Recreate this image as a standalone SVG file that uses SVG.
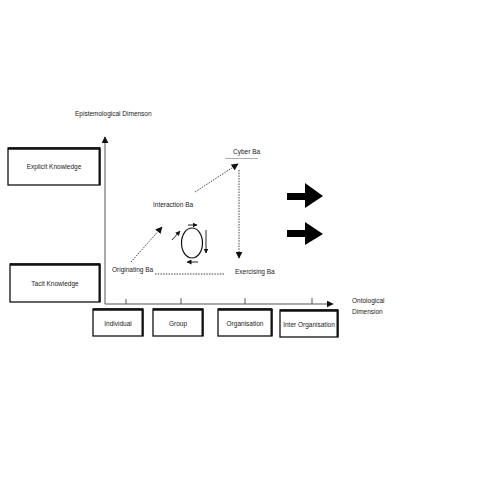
<svg xmlns="http://www.w3.org/2000/svg" width="480" height="480" viewBox="0 0 480 480">
<style>
text{font-family:"Liberation Sans",Arial,sans-serif;font-size:6.5px;fill:#222}
.box{fill:#fff;stroke:#111;stroke-width:1.3}
.top{stroke:#111;stroke-width:2.6}
.side{stroke:#111;stroke-width:2}
.axis{stroke:#555;stroke-width:1;fill:none}
.dot{stroke:#444;stroke-width:1;stroke-dasharray:1.5 1.2;fill:none}
.thin{stroke:#222;stroke-width:1;fill:none}
</style>
<defs>
<marker id="tri" viewBox="0 0 10 10" refX="9" refY="5" markerWidth="7" markerHeight="7" markerUnits="userSpaceOnUse" orient="auto"><path d="M0,0 L10,5 L0,10 Z" fill="#111"/></marker>
<marker id="sm" viewBox="0 0 10 10" refX="9" refY="5" markerWidth="5" markerHeight="5" markerUnits="userSpaceOnUse" orient="auto"><path d="M0,0 L10,5 L0,10 Z" fill="#111"/></marker>
</defs>
<rect width="480" height="480" fill="#fff"/>
<text x="75" y="116">Epistemological Dimenson</text>
<text x="352" y="303">Ontological</text>
<text x="352" y="314">Dimension</text>

<g id="explicit">
<rect class="box" x="8" y="148" width="92" height="37"/>
<line class="top" x1="8" y1="148.5" x2="100" y2="148.5"/>
<line class="side" x1="99.5" y1="148" x2="99.5" y2="185"/>
<text x="54" y="169" text-anchor="middle">Explicit Knowledge</text>
</g>
<g id="tacit">
<rect class="box" x="10" y="264" width="90" height="38"/>
<line class="top" x1="10" y1="264.5" x2="100" y2="264.5"/>
<line class="side" x1="99.5" y1="264" x2="99.5" y2="302"/>
<text x="55" y="286" text-anchor="middle">Tacit Knowledge</text>
</g>
<g id="individual">
<rect class="box" x="93" y="309" width="50" height="27"/>
<line class="top" x1="93" y1="309.5" x2="143" y2="309.5"/>
<line class="side" x1="142.5" y1="309" x2="142.5" y2="336"/>
<text x="118" y="326" text-anchor="middle">Individual</text>
</g>
<g id="group">
<rect class="box" x="153" y="309" width="50" height="27"/>
<line class="top" x1="153" y1="309.5" x2="203" y2="309.5"/>
<line class="side" x1="202.5" y1="309" x2="202.5" y2="336"/>
<text x="178" y="326" text-anchor="middle">Group</text>
</g>
<g id="organisation">
<rect class="box" x="218" y="309" width="54" height="27"/>
<line class="top" x1="218" y1="309.5" x2="272" y2="309.5"/>
<line class="side" x1="271.5" y1="309" x2="271.5" y2="336"/>
<text x="245" y="326" text-anchor="middle">Organisation</text>
</g>
<g id="interorg">
<rect class="box" x="280" y="310" width="58" height="27"/>
<line class="top" x1="280" y1="310.5" x2="338" y2="310.5"/>
<line class="side" x1="337.5" y1="310" x2="337.5" y2="337"/>
<text x="309" y="327" text-anchor="middle">Inter Organisation</text>
</g>

<g id="cyber"><text x="233" y="154">Cyber Ba</text><line x1="225" y1="158.5" x2="258" y2="158.5" stroke="#999" stroke-width="0.8"/></g>
<g id="interaction"><text x="153" y="207">Interaction Ba</text></g>
<g id="originating"><text x="112" y="272">Originating Ba</text></g>
<g id="exercising"><text x="235" y="274">Exercising Ba</text></g>

<g id="connectors">
<line class="axis" x1="105" y1="304" x2="105" y2="137" marker-end="url(#tri)"/>
<line class="axis" x1="105" y1="304" x2="333" y2="304" marker-end="url(#tri)"/>
<line class="axis" x1="126" y1="304" x2="126" y2="299"/>
<line class="axis" x1="181" y1="304" x2="181" y2="298"/>
<line class="axis" x1="245" y1="304" x2="245" y2="298"/>
<line class="axis" x1="312" y1="304" x2="312" y2="298"/>
<line class="dot" x1="131" y1="262" x2="162" y2="227" marker-end="url(#tri)"/>
<line class="dot" x1="195" y1="192" x2="238" y2="164" marker-end="url(#tri)"/>
<line class="dot" x1="239" y1="170" x2="239" y2="258" marker-end="url(#tri)"/>
<line class="dot" x1="155" y1="274" x2="225" y2="274"/>
<ellipse cx="192" cy="243" rx="10.5" ry="15" fill="none" stroke="#111" stroke-width="1.2"/>
<line class="thin" x1="188" y1="225" x2="197" y2="225" marker-end="url(#sm)"/>
<line class="thin" x1="206" y1="230" x2="206" y2="253" marker-end="url(#sm)"/>
<line class="thin" x1="198" y1="262" x2="187" y2="262" marker-end="url(#sm)"/>
<line class="thin" x1="172" y1="240" x2="180" y2="231" marker-end="url(#sm)"/>
<path d="M287,193 H305 V183 L323,196 L305,208 V200 H287 Z" fill="#000"/>
<path d="M287,230 H305 V222 L323,234 L305,245 V237 H287 Z" fill="#000"/>
</g>
</svg>
